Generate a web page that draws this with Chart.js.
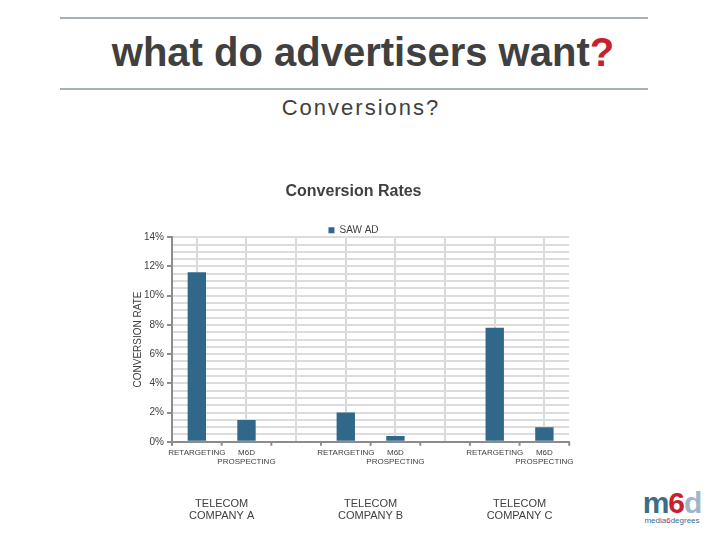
<!DOCTYPE html>
<html>
<head>
<meta charset="utf-8">
<script src="https://cdn.jsdelivr.net/npm/chart.js@4.4.0/dist/chart.umd.min.js"></script>
<style>
  body { margin: 0; width: 720px; height: 540px; background: #fff; font-family: "Liberation Sans", Arial, sans-serif; position: relative; overflow: hidden; }
  .rule { position: absolute; left: 60px; width: 588px; height: 2px; background: #a7b0b5; }
  #head { position: absolute; left: 0; width: 726px; top: 30px; text-align: center; font-size: 40px; font-weight: bold; color: #404040; }
  #head span { color: #c8202f; }
  #sub { position: absolute; left: 0; width: 722px; top: 95px; text-align: center; font-size: 22px; letter-spacing: 2px; color: #404040; }
  #wrap { position: absolute; left: 110px; top: 175px; width: 470px; height: 355px; }
  #logo { position: absolute; left: 640px; top: 490px; width: 64px; text-align: center; }
  #logo .big { font-size: 30px; font-weight: bold; line-height: 26px; letter-spacing: -1px; }
  #logo .small { font-size: 8px; color: #3a6d8c; line-height: 10px; }
</style>
</head>
<body>
<div class="rule" style="top:17px"></div>
<div id="head">what do advertisers want<span>?</span></div>
<div class="rule" style="top:88px"></div>
<div id="sub">Conversions?</div>
<div id="wrap"><canvas id="chart"></canvas></div>
<div id="logo">
  <div class="big"><span style="color:#3a6d8c">m</span><span style="color:#c8202f">6</span><span style="color:#9fb6c8">d</span></div>
  <div class="small">media<span style="color:#c8202f">6</span>degrees</div>
</div>
<script>
// 막대 데이터
const categories = [
  'RETARGETING', ['M6D', 'PROSPECTING'], '',
  'RETARGETING', ['M6D', 'PROSPECTING'], '',
  'RETARGETING', ['M6D', 'PROSPECTING']
];
const sawAd = [11.6, 1.5, null, 2.0, 0.4, null, 7.8, 1.0];
const companies = ['TELECOM|COMPANY A', 'TELECOM|COMPANY B', 'TELECOM|COMPANY C'];
const companyStart = [0, 3, 6]; // each company covers two slots

// company labels and bottom tick marks under the x axis
const groupLabels = {
    id: 'groupLabels',
    afterDraw(chart) {
        const ctx = chart.ctx;
        const x = chart.scales.x;
        const bottom = x.top;
        const step = x.getPixelForValue(1) - x.getPixelForValue(0);
        ctx.save();
        ctx.strokeStyle = '#8c8c8c';
        ctx.lineWidth = 2;
        for (let i = 0; i <= categories.length; i++) {
            const px = x.getPixelForValue(0) + (i - 0.5) * step;
            ctx.beginPath();
            ctx.moveTo(px, bottom);
            ctx.lineTo(px, bottom + 4);
            ctx.stroke();
        }
        ctx.fillStyle = '#404040';
        ctx.font = '11px "Liberation Sans", Arial, sans-serif';
        ctx.textAlign = 'center';
        ctx.textBaseline = 'middle';
        companies.forEach((c, i) => {
            const s = companyStart[i];
            const cx = x.getPixelForValue(s) + step / 2;
            const lines = c.split('|');
            ctx.fillText(lines[0], cx, chart.height - 26);
            ctx.fillText(lines[1], cx, chart.height - 14);
        });
        ctx.restore();
    }
};

// 범례 아래 고정 여백(10px)을 줄입니다.
const legendTrim = {
    id: 'legendTrim',
    afterInit(chart) {
        const fit = chart.legend.fit;
        chart.legend.fit = function () {
            fit.call(this);
            this.height -= 8;
        };
    }
};

const ctx = document.getElementById('chart').getContext('2d');
new Chart(ctx, {
    type: 'bar',
    data: {
        labels: categories,
        datasets: [{
            label: 'SAW AD',
            data: sawAd,
            backgroundColor: '#31688a',
            barPercentage: 0.37,
            categoryPercentage: 1
        }]
    },
    options: {
        responsive: true,
        maintainAspectRatio: false,
        animation: false,
        layout: { padding: { left: 25, right: 8, top: 0, bottom: 57 } },
        plugins: {
            title: {
                display: true,
                text: 'Conversion Rates',
                color: '#404040',
                font: { family: '"Liberation Sans", Arial, sans-serif', size: 16 },
                padding: { top: 7, bottom: 24 }
            },
            legend: {
                labels: {
                    boxWidth: 6, boxHeight: 6,
                    color: '#404040',
                    font: { family: '"Liberation Sans", Arial, sans-serif', size: 10 },
                    padding: 0
                }
            },
            tooltip: { enabled: false }
        },
        scales: {
            x: {
                grid: { offset: false, color: '#d9d9d9', lineWidth: 2, drawTicks: false },
                border: { color: '#8c8c8c', width: 2 },
                ticks: {
                    maxRotation: 0, autoSkip: false, padding: 6,
                    color: '#404040',
                    font: { family: '"Liberation Sans", Arial, sans-serif', size: 8 }
                }
            },
            y: {
                min: 0, max: 14,
                grid: {
                    color: '#dcdcdc', lineWidth: 2, tickLength: 5,
                    tickColor: c => c.tick && c.tick.value % 2 === 0 ? '#8c8c8c' : 'rgba(0,0,0,0)'
                },
                border: { color: '#8c8c8c', width: 2 },
                ticks: {
                    stepSize: 0.5, autoSkip: false, padding: 3,
                    color: '#404040',
                    font: { family: '"Liberation Sans", Arial, sans-serif', size: 10 },
                    callback: v => v % 2 === 0 ? v + '%' : ''
                },
                title: {
                    display: true, text: 'CONVERSION RATE',
                    color: '#404040',
                    font: { family: '"Liberation Sans", Arial, sans-serif', size: 10, lineHeight: 0.6 },
                    padding: 0
                }
            }
        }
    },
    plugins: [groupLabels, legendTrim]
});
</script>
</body>
</html>
